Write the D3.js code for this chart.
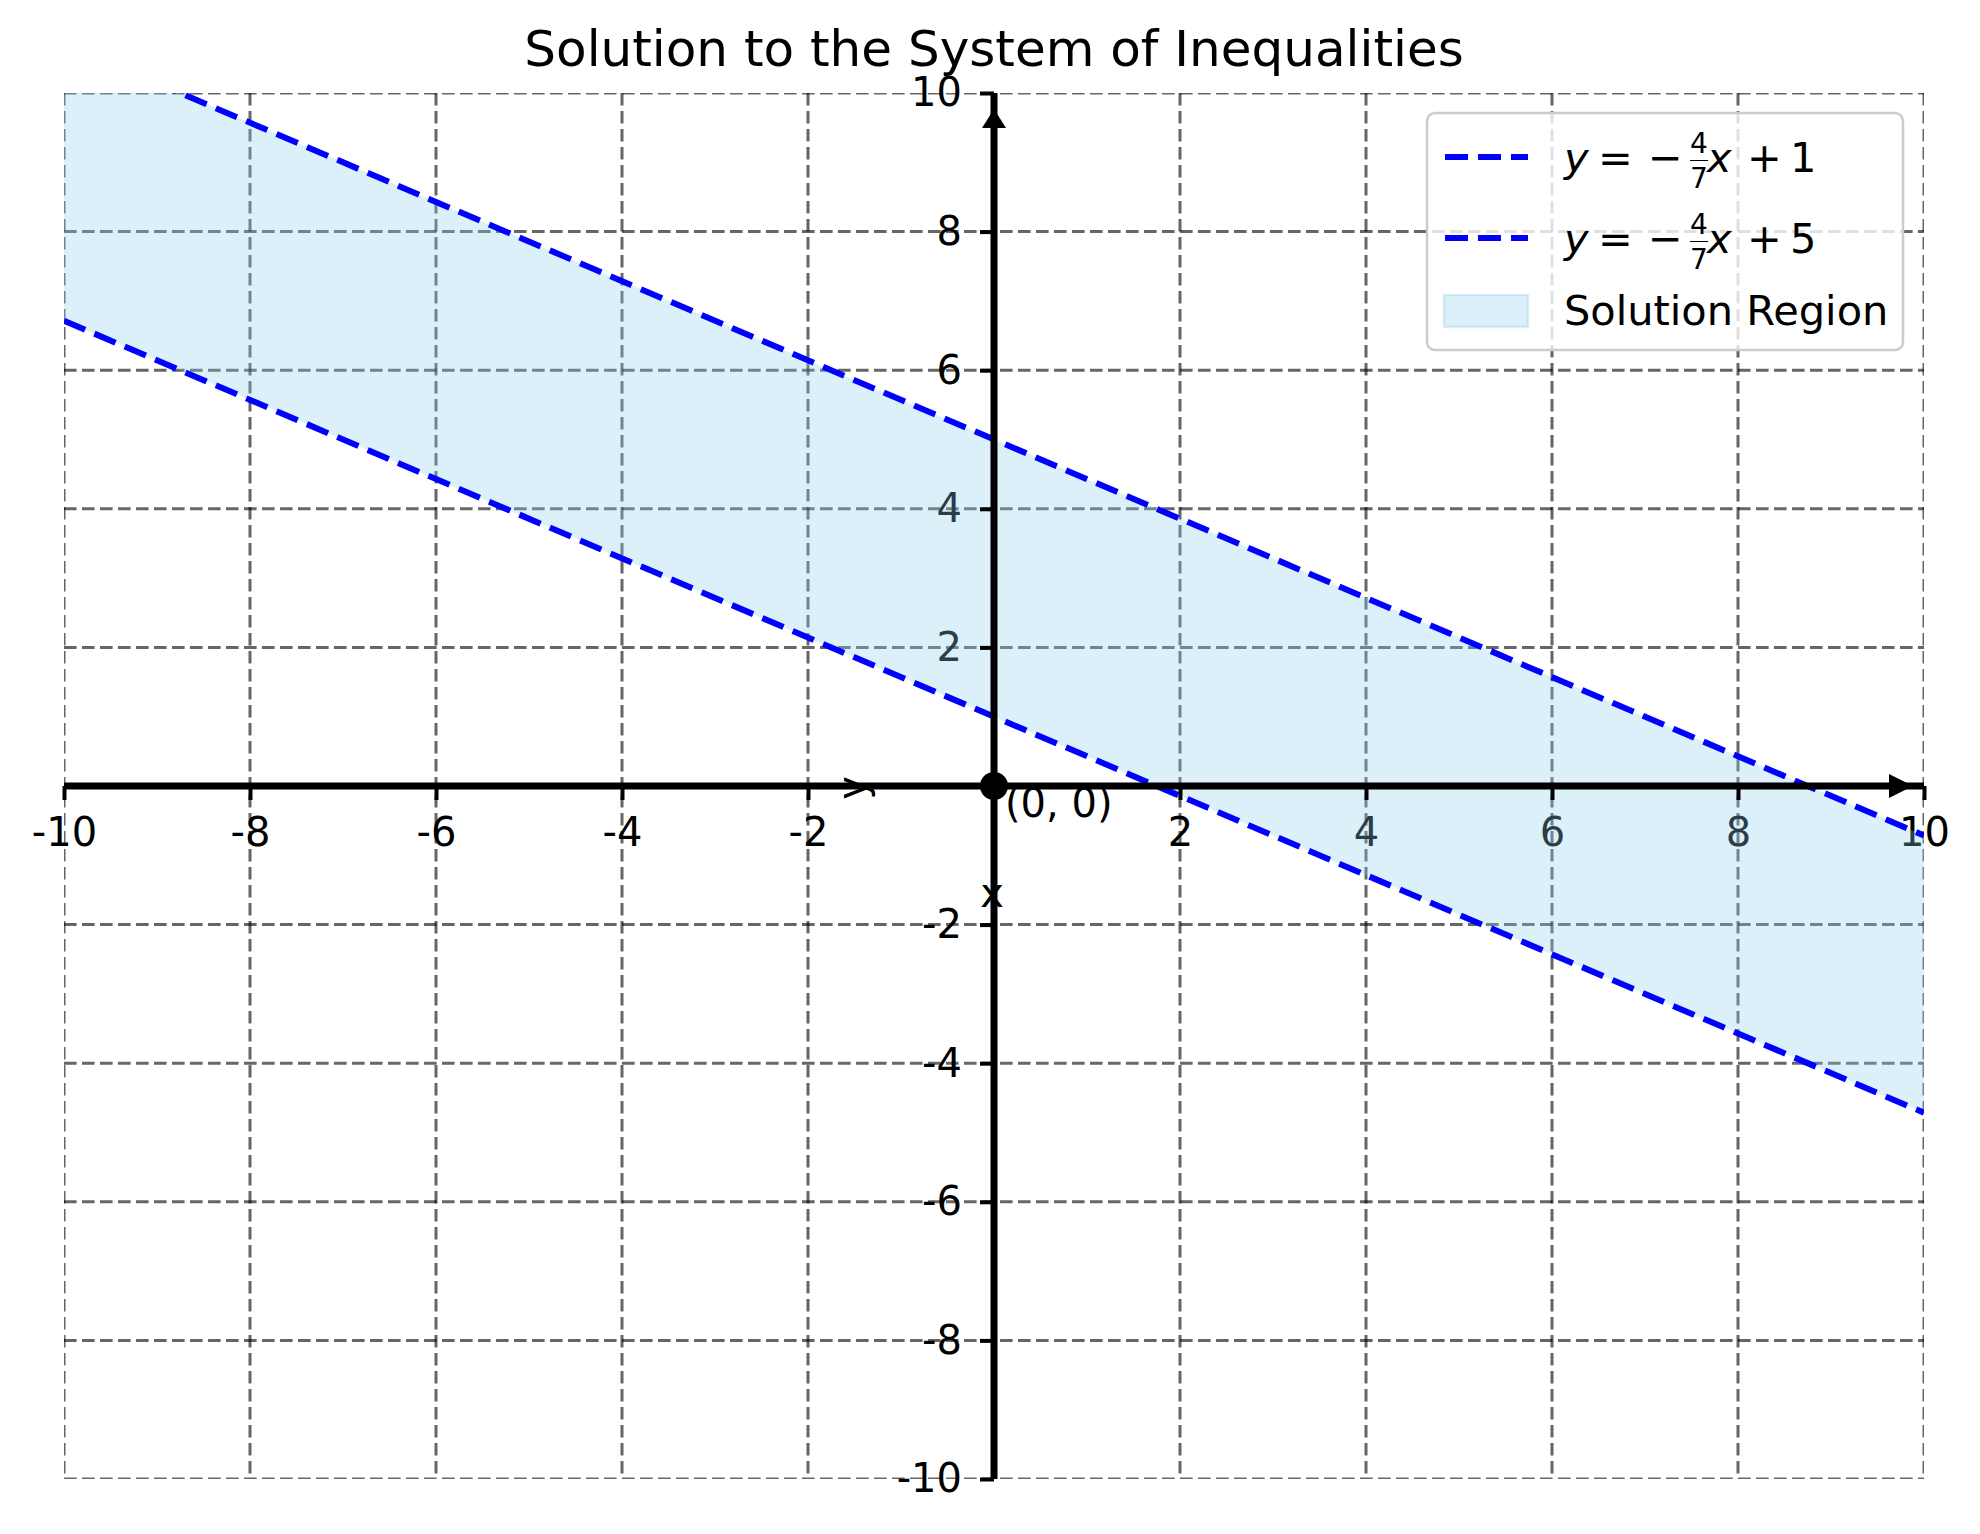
<!DOCTYPE html>
<html>
<head>
<meta charset="utf-8">
<script src="https://cdn.jsdelivr.net/npm/d3@7"></script>
<style>
  html, body { margin: 0; padding: 0; background: #ffffff; }
  svg { display: block; }
  text { font-family: "DejaVu Sans", sans-serif; }
</style>
</head>
<body>
<svg id="chart" width="1980" height="1534"></svg>
<script>
// ---------------- data ----------------
const titleText = "Solution to the System of Inequalities";
const xDomain = [-10, 10];
const yDomain = [-10, 10];
const xTickValues = [-10, -8, -6, -4, -2, 2, 4, 6, 8, 10];
const yTickValues = [-10, -8, -6, -4, -2, 2, 4, 6, 8, 10];
const gridValues = [-10, -8, -6, -4, -2, 0, 2, 4, 6, 8, 10];
const lineSlopes = [-4 / 7, -4 / 7];
const lineIntercepts = [1, 5];
const lineLabels = ["y = -4/7x + 1", "y = -4/7x + 5"];
const lineConstants = ["1", "5"];
const regionLabel = "Solution Region";
const originPoint = [0, 0];
const originLabel = "(0, 0)";

// ---------------- layout ----------------
const W = 1980, H = 1534;
const plot = { left: 64, right: 1924, top: 93, bottom: 1479 };
const svg = d3.select("#chart");
const x = d3.scaleLinear().domain(xDomain).range([plot.left, plot.right]);
const y = d3.scaleLinear().domain(yDomain).range([plot.bottom, plot.top]);

const lineColor = "#0000ff";
const fillColor = "#87ceeb";
const fillOpacity = 0.3;

svg.append("defs").append("clipPath").attr("id", "plotClip")
  .append("rect")
  .attr("x", plot.left).attr("y", plot.top)
  .attr("width", plot.right - plot.left).attr("height", plot.bottom - plot.top);

const fmt = d => (d < 0 ? "-" + Math.abs(d) : String(d));

// tick labels (drawn first, beneath grid and fill)
const xLab = svg.append("g").attr("transform", `translate(0,${y(0)})`)
  .call(d3.axisBottom(x).tickValues(xTickValues).tickSize(0).tickPadding(32).tickFormat(fmt));
const yLab = svg.append("g").attr("transform", `translate(${x(0)},0)`)
  .call(d3.axisLeft(y).tickValues(yTickValues).tickSize(0).tickPadding(32).tickFormat(fmt));
[xLab, yLab].forEach(g => {
  g.select(".domain").remove();
  g.attr("font-family", "DejaVu Sans").attr("font-size", 40);
  g.selectAll("text").attr("fill", "#000");
});

// grid
const grid = svg.append("g").attr("clip-path", "url(#plotClip)")
  .attr("stroke", "#000").attr("stroke-opacity", 0.6)
  .attr("stroke-width", 3).attr("stroke-dasharray", "12.6,5.4");
grid.selectAll("line.gx").data(gridValues).join("line").attr("class", "gx")
  .attr("x1", d => x(d)).attr("x2", d => x(d))
  .attr("y1", plot.top).attr("y2", plot.bottom);
grid.selectAll("line.gy").data(gridValues).join("line").attr("class", "gy")
  .attr("y1", d => y(d)).attr("y2", d => y(d))
  .attr("x1", plot.left).attr("x2", plot.right);

// solution region between the two lines
const lineFn = i => xv => lineSlopes[i] * xv + lineIntercepts[i];
const low = lineFn(0), high = lineFn(1);
const area = d3.area().x(d => x(d)).y0(d => y(low(d))).y1(d => y(high(d)));
svg.append("path").attr("clip-path", "url(#plotClip)")
  .datum(xDomain)
  .attr("d", area)
  .attr("fill", fillColor).attr("fill-opacity", fillOpacity);

// boundary lines
const line = d3.line();
lineIntercepts.forEach((b, i) => {
  const f = lineFn(i);
  svg.append("path").attr("clip-path", "url(#plotClip)")
    .datum(xDomain.map(xv => [x(xv), y(f(xv))]))
    .attr("d", line)
    .attr("fill", "none").attr("stroke", lineColor)
    .attr("stroke-width", 6).attr("stroke-dasharray", "23,10");
});

// axis tick marks
const xTk = svg.append("g").attr("transform", `translate(0,${y(0)})`)
  .call(d3.axisBottom(x).tickValues(xTickValues).tickSize(14).tickFormat(""));
const yTk = svg.append("g").attr("transform", `translate(${x(0)},0)`)
  .call(d3.axisLeft(y).tickValues(yTickValues).tickSize(14).tickFormat(""));
[xTk, yTk].forEach(g => {
  g.select(".domain").remove();
  g.selectAll("line").attr("stroke", "#000").attr("stroke-width", 4);
});

// axis lines
svg.append("line").attr("x1", plot.left).attr("x2", plot.right)
  .attr("y1", y(0)).attr("y2", y(0)).attr("stroke", "#000").attr("stroke-width", 7);
svg.append("line").attr("x1", x(0)).attr("x2", x(0))
  .attr("y1", plot.top).attr("y2", plot.bottom).attr("stroke", "#000").attr("stroke-width", 7);

// arrow heads
const ax = x(xDomain[1]) - 11, ay = y(0);
svg.append("path")
  .attr("d", `M${ax},${ay} L${ax - 24},${ay - 12} L${ax - 24},${ay + 12} Z`)
  .attr("fill", "#000");
const bx = x(0), by = y(yDomain[1]) + 16;
svg.append("path")
  .attr("d", `M${bx},${by} L${bx - 12},${by + 19} L${bx + 12},${by + 19} Z`)
  .attr("fill", "#000");

// origin point and label
svg.append("circle").attr("cx", x(originPoint[0])).attr("cy", y(originPoint[1]))
  .attr("r", 14).attr("fill", "#000");
svg.append("text").attr("x", x(originPoint[0]) + 11).attr("y", y(originPoint[1]) + 31)
  .attr("font-size", 40).attr("fill", "#000").text(originLabel);

// axis labels (as placed in the reference)
svg.append("text").attr("x", x(0) - 2).attr("y", 907)
  .attr("text-anchor", "middle").attr("font-size", 40).attr("fill", "#000").text("x");
svg.append("text")
  .attr("transform", `translate(866,788) rotate(-90)`)
  .attr("text-anchor", "middle").attr("font-size", 40).attr("fill", "#000").text("y");

// legend
const leg = svg.append("g");
leg.append("rect").attr("x", 1427).attr("y", 113).attr("width", 476).attr("height", 237)
  .attr("rx", 8).attr("fill", "#fff").attr("fill-opacity", 0.8)
  .attr("stroke", "#cccccc").attr("stroke-width", 2.5);
const entryY = [157, 238, 311];
const textX = 1564;
lineLabels.forEach((lbl, i) => {
  const cy = entryY[i];
  leg.append("line").attr("x1", 1445).attr("x2", 1528).attr("y1", cy).attr("y2", cy)
    .attr("stroke", lineColor).attr("stroke-width", 6).attr("stroke-dasharray", "23,10");
  const g = leg.append("g").attr("font-size", 41.5).attr("fill", "#000");
  g.append("text").attr("x", textX).attr("y", cy + 15).attr("font-style", "italic").text("y");
  g.append("text").attr("x", textX + 34).attr("y", cy + 15).text("=");
  g.append("text").attr("x", textX + 84).attr("y", cy + 15).text("\u2212");
  g.append("text").attr("x", textX + 135).attr("y", cy - 4).attr("text-anchor", "middle")
    .attr("font-size", 28).text("4");
  g.append("text").attr("x", textX + 135).attr("y", cy + 31).attr("text-anchor", "middle")
    .attr("font-size", 28).text("7");
  g.append("line").attr("x1", textX + 126).attr("x2", textX + 144)
    .attr("y1", cy + 3.5).attr("y2", cy + 3.5).attr("stroke", "#000").attr("stroke-width", 1);
  g.append("text").attr("x", textX + 143).attr("y", cy + 15).attr("font-style", "italic").text("x");
  g.append("text").attr("x", textX + 183).attr("y", cy + 15).text("+");
  g.append("text").attr("x", textX + 226).attr("y", cy + 15).text(lineConstants[i]);
});
leg.append("rect").attr("x", 1444).attr("y", 295).attr("width", 84).attr("height", 32)
  .attr("fill", fillColor).attr("fill-opacity", fillOpacity)
  .attr("stroke", fillColor).attr("stroke-opacity", fillOpacity).attr("stroke-width", 2.5);
leg.append("text").attr("x", textX).attr("y", 325).attr("font-size", 41.5).attr("fill", "#000")
  .text(regionLabel);

// title
svg.append("text").attr("x", (plot.left + plot.right) / 2).attr("y", 66)
  .attr("text-anchor", "middle").attr("font-size", 50).attr("fill", "#000").text(titleText);
</script>
</body>
</html>
